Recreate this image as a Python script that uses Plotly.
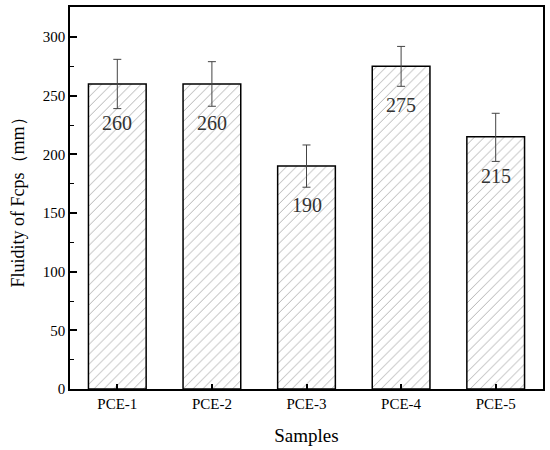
import plotly.graph_objects as go

samples = ["PCE-1", "PCE-2", "PCE-3", "PCE-4", "PCE-5"]
fluidity = [260, 260, 190, 275, 215]
err_plus = [21, 19, 18, 17, 20]
err_minus = [21, 19, 18, 17, 21]
y_ticks = [0, 50, 100, 150, 200, 250, 300]

SERIF = "Liberation Serif"

fig = go.Figure()
fig.add_trace(go.Bar(
    x=samples, y=fluidity, width=0.61,
    marker=dict(color="white", line=dict(color="black", width=1.5),
                pattern=dict(shape="/", fgcolor="#666666", bgcolor="white", size=7, solidity=0.14)),
    error_y=dict(type="data", array=err_plus, arrayminus=err_minus, symmetric=False,
                 color="#444444", thickness=1, width=4),
    showlegend=False,
))

for s, v in zip(samples, fluidity):
    fig.add_annotation(x=s, y=v, text=str(v), showarrow=False, yanchor="middle", yshift=-39,
                       font=dict(family=SERIF, size=20, color="#333333"))

axis_common = dict(showline=True, linecolor="black", linewidth=1.5, mirror=True, automargin=False,
                   ticks="inside", tickcolor="black", tickwidth=1.5, showgrid=False, zeroline=False,
                   tickfont=dict(family=SERIF, size=15, color="black"))

fig.update_xaxes(**axis_common, ticklen=5, range=[-0.5, 4.5],
                 minor=dict(ticks="inside", ticklen=4, tickcolor="black", tickwidth=1.5, tick0=0.5, dtick=1),
                 title=dict(text="Samples", font=dict(family=SERIF, size=19, color="black"), standoff=18))
fig.update_yaxes(**axis_common, ticklen=7, range=[0, 325.6], tickvals=y_ticks,
                 minor=dict(ticks="inside", ticklen=4, tickcolor="black", tickwidth=1, dtick=25, tick0=0),
                 title=dict(text="Fluidity of Fcps（mm）", font=dict(family=SERIF, size=18, color="black"), standoff=13))

fig.update_layout(width=550, height=450, margin=dict(l=70, r=7, t=7, b=61),
                  plot_bgcolor="white", paper_bgcolor="white", bargap=0.39,
                  font=dict(family=SERIF))

fig.write_html("out.html", config={"displayModeBar": False},
               post_script="document.body.style.margin='0';document.body.style.overflow='hidden';")
